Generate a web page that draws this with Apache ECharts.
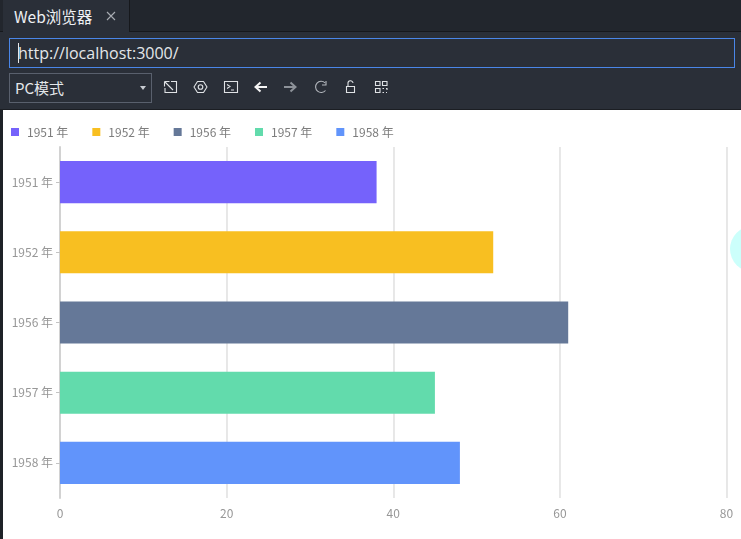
<!DOCTYPE html>
<html><head><meta charset="utf-8">
<script src="https://cdn.jsdelivr.net/npm/echarts@6/dist/echarts.min.js"></script>
<style>
html,body{margin:0;padding:0;width:741px;height:539px;overflow:hidden;background:#fff;font-family:"Noto Sans CJK SC","Noto Sans",sans-serif}
#main{position:absolute;left:0;top:0;width:741px;height:539px}
.abs{position:absolute;box-sizing:border-box}
</style></head><body>
<div id="main"></div>
<div class="abs" style="left:730px;top:226px;width:46px;height:46px;border-radius:50%;background:#ccfffb"></div>
<div class="abs" style="left:0;top:0;width:3px;height:539px;background:#1e2228"></div>
<div class="abs" style="left:0;top:0;width:741px;height:110px;background:#2a2f38;border-bottom:1px solid #1b1e23"></div>
<div class="abs" style="left:0;top:0;width:741px;height:32px;background:#22262d;border-bottom:1px solid #16181c"></div>
<div class="abs" style="left:3px;top:0;width:127px;height:32px;background:#2a2f38;border-right:1px solid #16181c"></div>
<div class="abs" style="left:14px;top:6px;font-size:15.5px;line-height:20px;color:#eef0f3">Web浏览器</div>
<svg class="abs" style="left:103px;top:8px;width:16px;height:16px;fill:none;stroke:#a9adb3;stroke-width:1.1" viewBox="0 0 16 16"><path d="M4 4L12 12M12 4L4 12"/></svg>
<div class="abs" style="left:9px;top:38px;width:726px;height:30px;border:1px solid #4a86e8;background:#2a2f38"></div>
<div class="abs" style="left:18px;top:43px;width:1px;height:20px;background:#e8e8e8"></div>
<div class="abs" style="left:18px;top:43px;font-size:16px;line-height:20px;color:#e4e7ea;font-family:'Open Sans'">http://localhost:3000/</div>
<div class="abs" style="left:9px;top:73px;width:143px;height:30px;border:1px solid #59606d"></div>
<div class="abs" style="left:15px;top:78px;font-size:15px;line-height:20px;color:#e4e7ea">PC模式</div>
<div class="abs" style="left:140px;top:86px;width:0;height:0;border-left:3px solid transparent;border-right:3px solid transparent;border-top:4px solid #c8ccd2"></div>
<svg class="abs" style="left:0;top:70px;width:741px;height:40px;fill:none;stroke:#dfe2e5;stroke-width:1.1" viewBox="0 70 741 40">
  <path d="M164.5 81.5L173 90M164.5 81.5H169.5M164.5 81.5V86.5M171 81.5H176.5V92.5H165V88"/>
  <path d="M197.5 81.5H203.5L207 87L203.5 92.5H197.5L194 87Z" stroke-linejoin="round"/><circle cx="200.5" cy="87" r="2.3"/>
  <path d="M224.5 81.5H237.5V92.5H224.5ZM227 84.5L230 86.5L227 88.5M231 90H234"/>
  <path d="M267 87H256M260.5 82.5L255.5 87L260.5 91.5" stroke="#f4f4f4" stroke-width="2"/>
  <path d="M284 87H295M290.5 82.5L295.5 87L290.5 91.5" stroke="#8d9299" stroke-width="2"/>
  <path d="M325.5 90.5A5.6 5.6 0 1 1 325 82.8M326 81V85H322" stroke="#b4b8be"/>
  <path d="M346.5 86.5H354.5V92.5H346.5ZM348 86.5V83.5A2.4 2.4 0 0 1 353 83"/>
  <path d="M375.5 81.5H380V85.5H375.5ZM382.5 81.5H387V85.5H382.5ZM375.5 88.5H380V92.5H375.5ZM382.5 88.5H384M386 88.5H387V90M382.5 92.5H384M386 92.5H387"/>
</svg>
<script>
const categories = ['1951 年', '1952 年', '1956 年', '1957 年', '1958 年'];
const values = [38, 52, 61, 45, 48];
const colors = ['#7562fb', '#f8bf21', '#657898', '#62dbac', '#6194fb'];
const xTicks = { min: 0, max: 80, interval: 20 };
const textColor = '#979797';
const font = '"Noto Sans CJK SC","Noto Sans",sans-serif';

const chart = echarts.init(document.getElementById('main'), null, { renderer: 'canvas' });
chart.setOption({
  animation: false,
  backgroundColor: '#fff',
  color: colors,
  legend: {
    show: true, left: 11, top: 126, icon: 'rect', itemWidth: 8, itemHeight: 8, itemGap: 24,
    padding: 0,
    textStyle: { color: '#7d7d7d', fontSize: 12, fontFamily: font, padding: [0,0,0,3] },
    data: categories
  },
  grid: { left: 60, right: 14.5, top: 147, bottom: 41, containLabel: false },
  xAxis: {
    type: 'value', min: xTicks.min, max: xTicks.max, interval: xTicks.interval,
    axisLine: { show: false }, axisTick: { show: false },
    axisLabel: { color: textColor, fontSize: 12, fontFamily: font, margin: 9, hideOverlap: false },
    splitLine: { show: true, lineStyle: { color: '#e2e2e2', width: 1.6 } }
  },
  yAxis: {
    type: 'category', inverse: true, data: categories,
    axisLine: { show: true, lineStyle: { color: '#d2d2d2', width: 2 } },
    axisTick: { show: true, alignWithLabel: true, length: 4, lineStyle: { color: '#c4c4c4' } },
    axisLabel: { color: textColor, fontSize: 12, fontFamily: font, margin: 7 }
  },
  series: categories.map((name, i) => ({
    name, type: 'bar', stack: 'all', barWidth: '60%',
    itemStyle: { color: colors[i] },
    data: categories.map((c, j) => (j === i ? values[i] : null))
  }))
});
</script>
</body></html>
